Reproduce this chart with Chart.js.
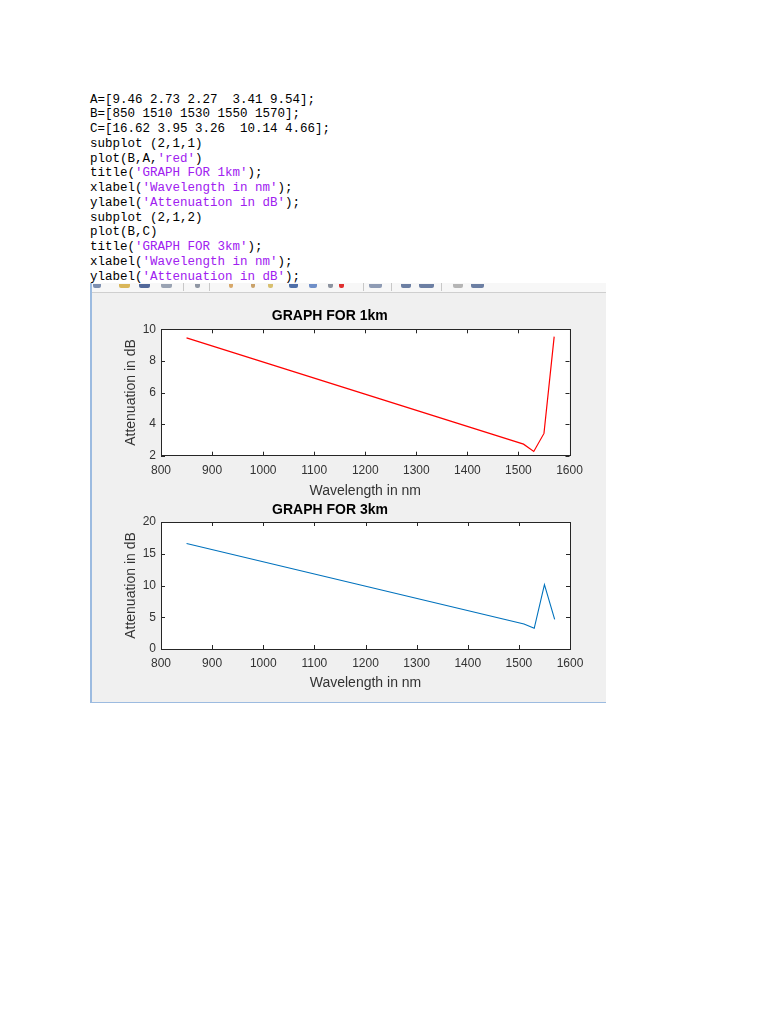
<!DOCTYPE html>
<html>
<head>
<meta charset="utf-8">
<script src="https://cdn.jsdelivr.net/npm/chart.js@4"></script>
<style>
  body { margin: 0; background: #fff; width: 768px; height: 1024px; position: relative; overflow: hidden; }
  pre.code {
    position: absolute; left: 90px; top: 92.5px; margin: 0;
    font-family: "Liberation Mono", "Courier New", monospace;
    font-size: 12.5px; line-height: 14.75px; color: #000;
  }
  pre.code .s { color: #a020f0; }
  #figure {
    position: absolute; left: 90px; top: 283px; width: 516px; height: 420px;
    background: #f0f0f0; border-left: 2px solid #9cbbe0; border-bottom: 1px solid #9cbbe0;
    box-sizing: border-box; z-index: 2;
  }
  #toolbar {
    position: absolute; left: 0; top: 0; width: 100%; height: 9px;
    background: #f7f7f7; border-bottom: 1px solid #cfcfcf;
  }
  #toolbar i { position: absolute; top: 1px; height: 4px; border-radius: 0 0 2px 2px; }
  #toolbar b { position: absolute; top: 0; width: 1px; height: 8px; background: #c8c8c8; }
  canvas { position: absolute; }
</style>
</head>
<body>
<pre class="code">A=[9.46 2.73 2.27  3.41 9.54];
B=[850 1510 1530 1550 1570];
C=[16.62 3.95 3.26  10.14 4.66];
subplot (2,1,1)
plot(B,A,<span class="s">'red'</span>)
title(<span class="s">'GRAPH FOR 1km'</span>);
xlabel(<span class="s">'Wavelength in nm'</span>);
ylabel(<span class="s">'Attenuation in dB'</span>);
subplot (2,1,2)
plot(B,C)
title(<span class="s">'GRAPH FOR 3km'</span>);
xlabel(<span class="s">'Wavelength in nm'</span>);
ylabel(<span class="s">'Attenuation in dB'</span>);</pre>

<div id="figure">
  <div id="toolbar">
    <i style="left:1px;width:8px;background:#7d8fb0"></i>
    <i style="left:27px;width:11px;background:#d9b65a"></i>
    <i style="left:47px;width:11px;background:#52689a"></i>
    <i style="left:69px;width:11px;background:#9aa3b3"></i>
    <b style="left:91px"></b>
    <i style="left:103px;width:5px;background:#8f96a3"></i>
    <b style="left:117px"></b>
    <i style="left:137px;width:4px;background:#d7a86a"></i>
    <i style="left:159px;width:4px;background:#c9a26a"></i>
    <i style="left:176px;width:5px;background:#d8c070"></i>
    <i style="left:197px;width:9px;background:#4f6fa8"></i>
    <i style="left:217px;width:8px;background:#6f8fc8"></i>
    <i style="left:236px;width:5px;background:#8c93a0"></i>
    <i style="left:247px;width:5px;background:#e03030"></i>
    <b style="left:271px"></b>
    <i style="left:277px;width:13px;background:#8e9bb4"></i>
    <b style="left:299px"></b>
    <i style="left:309px;width:10px;background:#6c7fa3"></i>
    <i style="left:327px;width:15px;background:#6c7fa3"></i>
    <b style="left:349px"></b>
    <i style="left:361px;width:10px;background:#b5b5b5"></i>
    <i style="left:379px;width:13px;background:#6c7fa3"></i>
  </div>
</div>

<canvas id="plot-1km" width="516" height="205" style="left:90px;top:295px;width:516px;height:205px;z-index:3"></canvas>
<canvas id="plot-3km" width="516" height="202" style="left:90px;top:490px;width:516px;height:202px;z-index:3"></canvas>

<script>
const wavelength = [850, 1510, 1530, 1550, 1570];
const atten1km = [9.46, 2.73, 2.27, 3.41, 9.54];
const atten3km = [16.62, 3.95, 3.26, 10.14, 4.66];
const xRange = [800, 1600];
const xStep = 100;
const yRange1km = [2, 10];
const yStep1km = 2;
const yRange3km = [0, 20];
const yStep3km = 5;

Chart.defaults.font.family = "'Liberation Sans', Arial, sans-serif";
Chart.defaults.color = "#333333";

// white axes box, black frame and inward ticks on all four sides, like MATLAB
const matlabAxes = {
  id: "matlabAxes",
  beforeDraw(chart) {
    const { ctx, chartArea: a } = chart;
    ctx.save();
    ctx.fillStyle = "#ffffff";
    ctx.fillRect(a.left, a.top, a.right - a.left, a.bottom - a.top);
    ctx.restore();
  },
  afterDatasetsDraw(chart) {
    const { ctx, chartArea: a, scales } = chart;
    const len = 4;
    ctx.save();
    ctx.strokeStyle = "#262626";
    ctx.lineWidth = 1;
    ctx.beginPath();
    scales.x.ticks.forEach((t) => {
      const px = Math.round(scales.x.getPixelForValue(t.value)) + 0.5;
      ctx.moveTo(px, a.bottom); ctx.lineTo(px, a.bottom - len);
      ctx.moveTo(px, a.top); ctx.lineTo(px, a.top + len);
    });
    scales.y.ticks.forEach((t) => {
      const py = Math.round(scales.y.getPixelForValue(t.value)) + 0.5;
      ctx.moveTo(a.left, py); ctx.lineTo(a.left + len, py);
      ctx.moveTo(a.right, py); ctx.lineTo(a.right - len, py);
    });
    ctx.stroke();
    ctx.strokeRect(Math.round(a.left) + 0.5, Math.round(a.top) + 0.5,
      Math.round(a.right - a.left), Math.round(a.bottom - a.top));
    ctx.restore();
  },
};

function makeChart(canvasId, values, color, lineWidth, title, yRange, yStep, box) {
  let canvas = document.getElementById(canvasId);
  let points = wavelength.map((w, i) => ({ x: w, y: values[i] }));
  return new Chart(canvas, {
    type: "line",
    data: {
      datasets: [
        {
          data: points,
          borderColor: color,
          backgroundColor: color,
          borderWidth: lineWidth,
          pointRadius: 0,
          tension: 0,
        },
      ],
    },
    options: {
      responsive: false,
      animation: false,
      layout: { padding: { left: 0, right: box.right, top: 0, bottom: 0 } },
      plugins: {
        legend: { display: false },
        tooltip: { enabled: false },
        title: {
          display: true,
          text: title,
          color: "#000000",
          font: { size: 14, weight: "bold" },
          padding: { top: box.titleTop, bottom: box.titleBottom },
        },
      },
      scales: {
        x: {
          type: "linear",
          min: xRange[0],
          max: xRange[1],
          grid: { display: false, drawTicks: false },
          border: { display: false },
          ticks: {
            stepSize: xStep,
            padding: box.xTickPad,
            font: { size: 12 },
            callback: (v) => String(v),
          },
          title: {
            display: true,
            text: "Wavelength in nm",
            font: { size: 14 },
            padding: { top: 0, bottom: box.xTitleBottom },
          },
          afterFit: (s) => { s.height = box.xHeight; },
        },
        y: {
          min: yRange[0],
          max: yRange[1],
          grid: { display: false, drawTicks: false },
          border: { display: false },
          ticks: {
            stepSize: yStep,
            padding: 5,
            font: { size: 12 },
            callback: (v) => String(v),
          },
          title: {
            display: true,
            text: "Attenuation in dB",
            font: { size: 14 },
            padding: { top: 32.6, bottom: 0 },
          },
          afterFit: (s) => { s.width = 71; },
        },
      },
    },
    plugins: [matlabAxes],
  });
}

makeChart("plot-1km", atten1km, "#ff0000", 1.2, "GRAPH FOR 1km", yRange1km, yStep1km,
  { right: 36.5, titleTop: 12.6, titleBottom: 4.9, xTickPad: 8, xTitleBottom: 0.6, xHeight: 44.3 });
makeChart("plot-3km", atten3km, "#0072bd", 1.1, "GRAPH FOR 3km", yRange3km, yStep3km,
  { right: 36, titleTop: 11.6, titleBottom: 3.6, xTickPad: 7, xTitleBottom: 0.3, xHeight: 43 });
</script>
</body>
</html>
